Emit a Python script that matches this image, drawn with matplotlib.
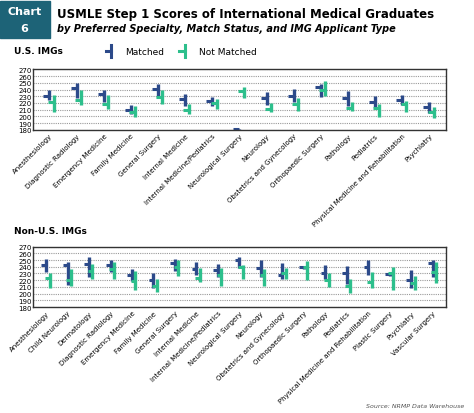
import matplotlib
matplotlib.use('Agg')
import matplotlib.pyplot as plt
import matplotlib.patches as mpatches
import numpy as np

us_spec = ['Anesthesiology', 'Diagnostic Radiology', 'Emergency Medicine', 'Family Medicine',
           'General Surgery', 'Internal Medicine', 'Internal Medicine/Pediatrics',
           'Neurological Surgery', 'Neurology', 'Obstetrics and Gynecology', 'Orthopaedic Surgery',
           'Pathology', 'Pediatrics', 'Physical Medicine and Rehabilitation', 'Psychiatry']
us_m_hi = [239, 250, 240, 217, 248, 234, 229, 181, 237, 241, 248, 238, 231, 232, 221]
us_m_lo = [224, 228, 222, 203, 228, 215, 216, 180, 217, 222, 229, 215, 212, 217, 205]
us_m_mean = [231, 242, 233, 210, 241, 226, 223, 181, 227, 230, 244, 227, 221, 224, 214]
us_n_hi = [232, 239, 232, 215, 240, 219, 226, 244, 220, 227, 252, 221, 219, 223, 214]
us_n_lo = [207, 217, 211, 199, 219, 203, 211, 228, 206, 208, 230, 208, 199, 206, 197]
us_n_mean = [222, 225, 219, 207, 229, 210, 220, 238, 211, 219, 240, 212, 212, 218, 206]

nonus_spec = ['Anesthesiology', 'Child Neurology', 'Dermatology', 'Diagnostic Radiology',
              'Emergency Medicine', 'Family Medicine', 'General Surgery', 'Internal Medicine',
              'Internal Medicine/Pediatrics', 'Neurological Surgery', 'Neurology',
              'Obstetrics and Gynecology', 'Orthopaedic Surgery', 'Pathology', 'Pediatrics',
              'Physical Medicine and Rehabilitation', 'Plastic Surgery', 'Psychiatry',
              'Vascular Surgery']
nu_m_hi = [251, 247, 254, 250, 237, 230, 252, 247, 244, 255, 250, 245, 241, 243, 241, 250, 231, 235, 250]
nu_m_lo = [232, 213, 225, 232, 218, 208, 233, 228, 224, 238, 225, 222, 237, 222, 215, 228, 226, 208, 225]
nu_m_mean = [243, 242, 244, 242, 228, 220, 245, 237, 235, 250, 238, 227, 239, 231, 231, 239, 229, 220, 245]
nu_n_hi = [231, 236, 244, 247, 233, 222, 250, 238, 238, 243, 236, 238, 249, 230, 222, 232, 240, 226, 247]
nu_n_lo = [208, 212, 222, 222, 205, 202, 226, 217, 212, 222, 212, 221, 220, 210, 201, 208, 205, 205, 216]
nu_n_mean = [223, 220, 234, 237, 218, 212, 240, 223, 227, 240, 228, 230, 240, 220, 212, 217, 230, 216, 232]

C_M = '#2c4a8a'
C_N = '#2dbf8c'


def draw(ax, labels, series):
    x = np.arange(len(labels))
    for off, (hi, lo, mean), col in zip([0.0, 0.16], series, [C_M, C_N]):
        xs = x + off
        ax.vlines(xs, lo, hi, color=col, lw=2.4)
        ax.hlines(mean, xs - 0.22, xs, color=col, lw=2.2)
    ax.set_xlim(-0.6, len(labels) - 0.4)
    ax.set_ylim(180, 270)
    ax.set_yticks(range(180, 271, 10))
    ax.yaxis.grid(True, ls=(0, (1, 1)), color='#999999', lw=0.8)
    ax.set_axisbelow(True)
    ax.set_xticks(x)
    ax.set_xticklabels(labels, rotation=45, ha='right', rotation_mode='anchor', fontsize=5)
    ax.tick_params(axis='y', labelsize=5, length=0, pad=1)
    ax.tick_params(axis='x', length=0, pad=2)
    for s in ax.spines.values():
        s.set_color('#333333')
        s.set_linewidth(1)


fig = plt.figure(figsize=(4.74, 4.14), dpi=100)

fig.patches.append(mpatches.Rectangle((0.0, 0.905), 0.105, 0.09, transform=fig.transFigure,
                                      color='#1d6377'))
fig.text(0.052, 0.97, 'Chart', ha='center', va='center', color='white', fontsize=8, weight='bold')
fig.text(0.052, 0.93, '6', ha='center', va='center', color='white', fontsize=8, weight='bold')
fig.text(0.12, 0.965, 'USMLE Step 1 Scores of International Medical Graduates',
         fontsize=8.5, weight='bold', va='center')
fig.text(0.12, 0.93, 'by Preferred Specialty, Match Status, and IMG Applicant Type',
         fontsize=7, weight='bold', style='italic', va='center')

fig.text(0.03, 0.875, 'U.S. IMGs', fontsize=6.5, weight='bold', va='center')
fig.text(0.03, 0.44, 'Non-U.S. IMGs', fontsize=6.5, weight='bold', va='center')

ax1 = fig.add_axes([0.07, 0.684, 0.87, 0.146])
draw(ax1, us_spec, [(us_m_hi, us_m_lo, us_m_mean), (us_n_hi, us_n_lo, us_n_mean)])
ax2 = fig.add_axes([0.07, 0.256, 0.87, 0.146])
draw(ax2, nonus_spec, [(nu_m_hi, nu_m_lo, nu_m_mean), (nu_n_hi, nu_n_lo, nu_n_mean)])

# legend
for xl, col, lab in [(0.235, C_M, 'Matched'), (0.39, C_N, 'Not Matched')]:
    fig.add_artist(plt.Line2D([xl, xl], [0.86, 0.888], color=col, lw=2.2, transform=fig.transFigure))
    fig.add_artist(plt.Line2D([xl - 0.012, xl], [0.874, 0.874], color=col, lw=2.2,
                              transform=fig.transFigure))
    fig.text(xl + 0.03, 0.874, lab, fontsize=6.5, va='center')

fig.text(0.98, 0.015, 'Source: NRMP Data Warehouse', fontsize=4.5, style='italic',
         ha='right', color='#555555')

fig.savefig('out.png', dpi=100)
